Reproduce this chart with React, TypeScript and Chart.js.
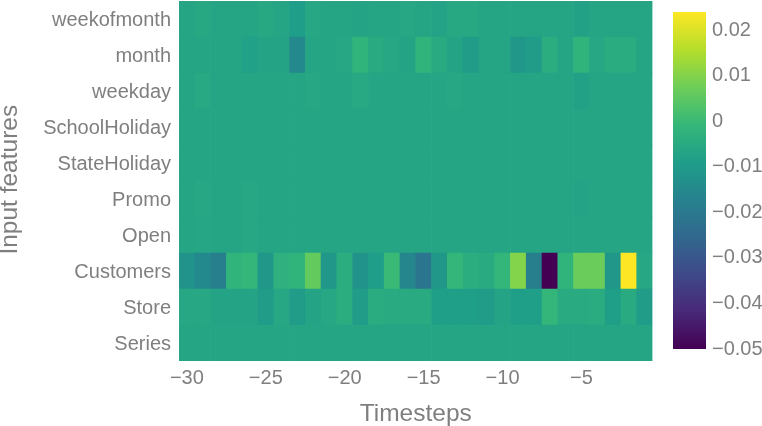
import { useEffect, useRef } from "react";
import { Chart, registerables } from "chart.js";

Chart.register(...registerables);

const timesteps = [
  -30, -29, -28, -27, -26, -25, -24, -23, -22, -21, -20, -19, -18, -17, -16,
  -15, -14, -13, -12, -11, -10, -9, -8, -7, -6, -5, -4, -3, -2, -1,
];

// top to bottom, as in the picture
const features = [
  "weekofmonth", "month", "weekday", "SchoolHoliday", "StateHoliday",
  "Promo", "Open", "Customers", "Store", "Series",
];

const B = -0.0065;
const weekofmonth = [B, -0.0055, B, B, B, -0.0055, B, -0.009, -0.0058, B, B, -0.007, B, B, -0.0058, B, -0.0072, -0.0055, -0.0055, B, B, B, B, B, B, -0.0078, B, B, B, B];
const month = [B, B, B, B, -0.008, -0.007, -0.007, -0.015, B, B, -0.006, -0.002, -0.005, -0.006, -0.007, -0.002, -0.005, -0.007, -0.0095, B, B, -0.011, -0.0095, -0.004, B, -0.002, -0.006, -0.0045, -0.0045, B];
const weekday = [B, -0.0056, B, B, B, B, B, B, -0.006, B, B, -0.0056, B, B, B, B, B, -0.006, B, B, B, B, B, B, B, -0.0078, B, B, B, B];
const schoolHoliday = [B, B, B, B, B, B, B, B, B, B, B, B, B, B, B, B, B, B, B, B, B, B, B, B, B, B, B, B, B, B];
const stateHoliday = [B, B, B, B, B, B, B, B, B, B, B, B, B, B, B, B, B, B, B, B, B, B, B, B, B, B, B, B, B, B];
const promo = [B, -0.0058, B, B, -0.0058, B, B, B, B, B, B, B, B, B, B, B, B, B, B, B, B, B, B, B, B, -0.0072, B, B, B, B];
const open = [B, -0.0062, B, B, -0.0058, B, B, B, B, B, B, B, B, B, B, B, B, B, B, B, B, B, B, B, B, B, B, B, B, B];
const customers = [-0.012, -0.015, -0.018, -0.002, -0.001, -0.011, -0.003, -0.002, 0.006, -0.011, -0.004, -0.012, -0.009, 0, -0.016, -0.021, -0.011, -0.001, -0.004, -0.005, -0.001, 0.01, -0.018, -0.05, -0.002, 0.007, 0.007, -0.011, 0.024, -0.006];
const store = [-0.006, -0.006, -0.007, -0.007, -0.007, -0.0095, -0.006, -0.0095, -0.007, -0.006, -0.004, -0.0095, -0.0045, -0.005, -0.005, -0.005, -0.0085, -0.0085, -0.0085, -0.0095, -0.007, -0.0085, -0.0085, -0.001, -0.005, -0.005, -0.0045, -0.0085, -0.005, -0.0095];
const series = [B, B, B, B, B, B, B, B, B, B, B, B, B, B, B, B, B, B, B, B, B, B, B, B, B, B, B, B, B, B];

const rows = [weekofmonth, month, weekday, schoolHoliday, stateHoliday, promo, open, customers, store, series];

const colorbarTicks = [-0.05, -0.04, -0.03, -0.02, -0.01, 0, 0.01, 0.02];
const zmin = -0.05;
const zmax = 0.024;

const viridis = ["#440154", "#482878", "#3e4989", "#31688e", "#26828e", "#1f9e89", "#35b779", "#6ece58", "#b5de2b", "#fde725"];
const GREY = "#7f7f7f";
const FONT = "'Liberation Sans', Arial, sans-serif";

function hexToRgb(h: string) {
  return [1, 3, 5].map((i) => parseInt(h.slice(i, i + 2), 16));
}

function colorFor(v: number) {
  const t = Math.min(1, Math.max(0, (v - zmin) / (zmax - zmin))) * (viridis.length - 1);
  const i = Math.min(viridis.length - 2, Math.floor(t));
  const a = hexToRgb(viridis[i]);
  const b = hexToRgb(viridis[i + 1]);
  const c = a.map((x, k) => Math.round(x + (b[k] - x) * (t - i)));
  return `rgb(${c[0]},${c[1]},${c[2]})`;
}

const minus = (s: string) => s.replace("-", "\u2212");

// axis title drawn by hand so it can sit right against the page edge
const yTitlePlugin = {
  id: "yTitle",
  afterDraw(chart: any) {
    const { ctx } = chart;
    ctx.save();
    ctx.translate(10.5, 179.7);
    ctx.rotate(-Math.PI / 2);
    ctx.fillStyle = GREY;
    ctx.font = `24.5px ${FONT}`;
    ctx.textAlign = "center";
    ctx.textBaseline = "middle";
    ctx.fillText("Input features", 0, 0);
    ctx.restore();
  },
};

function noPadding(s: any) {
  s.paddingTop = 0;
  s.paddingBottom = 0;
  s.paddingLeft = 0;
  s.paddingRight = 0;
}

export default function App() {
  const heatRef = useRef<HTMLCanvasElement>(null);
  const barRef = useRef<HTMLCanvasElement>(null);

  useEffect(() => {
    document.body.style.margin = "0";
    if (!heatRef.current || !barRef.current) return;

    const heat = new Chart(heatRef.current, {
      type: "bar",
      plugins: [yTitlePlugin],
      data: {
        labels: timesteps,
        // stacking starts at the bottom of the axis, so the last row goes first
        datasets: rows
          .map((row, i) => ({
            label: features[i],
            data: row.map(() => 1),
            backgroundColor: row.map(colorFor),
            borderWidth: 0,
            barPercentage: 1,
            categoryPercentage: 1,
          }))
          .reverse(),
      },
      options: {
        animation: false,
        responsive: false,
        layout: { padding: { top: 1, right: 109.5, left: 0, bottom: 0 } },
        plugins: { legend: { display: false }, tooltip: { enabled: false } },
        scales: {
          x: {
            stacked: true,
            grid: { display: false, drawTicks: false },
            border: { display: false },
            afterFit: (s: any) => {
              s.height = 65;
              noPadding(s);
            },
            ticks: {
              autoSkip: false,
              maxRotation: 0,
              color: GREY,
              padding: 5,
              font: { family: FONT, size: 20 },
              callback: (_v: any, i: number) =>
                timesteps[i] % 5 === 0 ? minus(String(timesteps[i])) : "",
            },
            title: {
              display: true,
              text: "Timesteps",
              color: GREY,
              font: { family: FONT, size: 24.5 },
              padding: { top: 0, bottom: -3 },
            },
          },
          y: {
            stacked: true,
            min: 0,
            max: 10,
            grid: { display: false, drawTicks: false },
            border: { display: false },
            afterBuildTicks: (s: any) => {
              s.ticks = features.map((_f, i) => ({ value: 9.5 - i }));
            },
            afterFit: (s: any) => {
              s.width = 179;
              noPadding(s);
            },
            ticks: {
              autoSkip: false,
              color: GREY,
              padding: 8,
              labelOffset: 1,
              font: { family: FONT, size: 20 },
              callback: (v: any) => features[Math.round(9.5 - Number(v))],
            },
          },
        },
      },
    });

    const colorbar = new Chart(barRef.current, {
      type: "bar",
      data: {
        labels: [""],
        datasets: [
          {
            data: [[zmin, zmax]] as any,
            barPercentage: 1,
            categoryPercentage: 1,
            borderWidth: 0,
            backgroundColor: (c: any) => {
              const area = c.chart.chartArea;
              if (!area) return viridis[0];
              const g = c.chart.ctx.createLinearGradient(0, area.bottom, 0, area.top);
              viridis.forEach((col, i) => g.addColorStop(i / (viridis.length - 1), col));
              return g;
            },
          },
        ],
      },
      options: {
        animation: false,
        responsive: false,
        layout: { padding: { top: 12, bottom: 77, left: 0, right: 0 } },
        plugins: { legend: { display: false }, tooltip: { enabled: false } },
        scales: {
          x: { display: false, grid: { display: false } },
          y: {
            position: "right",
            min: zmin,
            max: zmax,
            grid: { display: false, drawTicks: false },
            border: { display: false },
            afterBuildTicks: (s: any) => {
              s.ticks = colorbarTicks.map((value) => ({ value }));
            },
            afterFit: (s: any) => {
              s.width = 56;
              noPadding(s);
            },
            ticks: {
              autoSkip: false,
              color: GREY,
              padding: 6,
              font: { family: FONT, size: 20 },
              callback: (v: any) => minus(String(Math.round(Number(v) * 100) / 100)),
            },
          },
        },
      },
    });

    return () => {
      heat.destroy();
      colorbar.destroy();
    };
  }, []);

  return (
    <div style={{ position: "absolute", left: 0, top: 0, width: 762, height: 426, background: "#fff" }}>
      <canvas ref={heatRef} width={762} height={426} style={{ position: "absolute", left: 0, top: 0 }} />
      <canvas ref={barRef} width={89} height={426} style={{ position: "absolute", left: 673, top: 0 }} />
    </div>
  );
}
